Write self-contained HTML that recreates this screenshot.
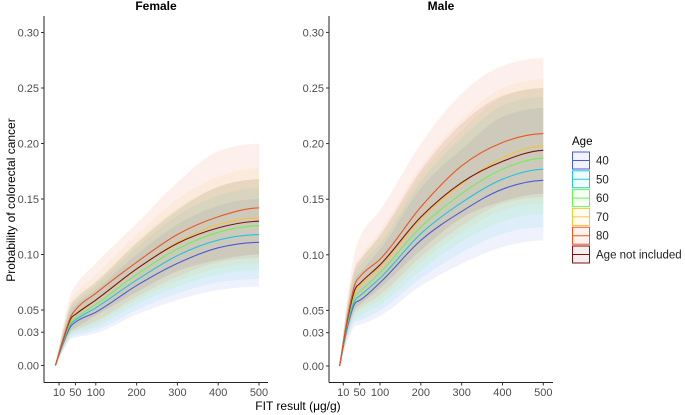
<!DOCTYPE html>
<html><head><meta charset="utf-8"><style>
body{margin:0;background:#fff;}
svg{display:block;font-family:"Liberation Sans",Arial,sans-serif;}
</style></head><body>
<svg id="chart" width="685" height="415" xmlns="http://www.w3.org/2000/svg">
<text x="156" y="10" text-anchor="middle" font-weight="bold" font-size="12">Female</text>
<text x="441" y="10" text-anchor="middle" font-weight="bold" font-size="12">Male</text>
<text x="298" y="410" text-anchor="middle" font-size="12">FIT result (μg/g)</text>
<text transform="translate(15,200) rotate(-90)" text-anchor="middle" font-size="12">Probability of colorectal cancer</text>
<g id="legend">
<text x="572" y="145" font-size="11.5">Age</text>
</g>
</svg>
<script>
const xs = [1, 20, 40, 50, 100, 200, 300, 400, 500];
const series = ['40', '50', '60', '70', '80', 'Age not included'];
const colors = ['#4a5ad8', '#22c4de', '#6cf05a', '#f5c23c', '#ec5420', '#7a1414'];
const yTicks = [0, 0.03, 0.05, 0.10, 0.15, 0.20, 0.25, 0.30];
const xTicks = [10, 50, 100, 200, 300, 400, 500];

const femaleMean = [
 [0,0.020,0.036,0.039,0.048,0.072,0.092,0.106,0.111],
 [0,0.021,0.038,0.041,0.052,0.077,0.099,0.113,0.118],
 [0,0.022,0.040,0.043,0.055,0.082,0.105,0.120,0.126],
 [0,0.023,0.042,0.046,0.059,0.087,0.111,0.127,0.133],
 [0,0.024,0.045,0.050,0.065,0.093,0.118,0.134,0.142],
 [0,0.023,0.043,0.046,0.059,0.087,0.110,0.124,0.130]];
const femaleHi = [
 [0,0.028,0.050,0.054,0.068,0.100,0.127,0.144,0.150],
 [0,0.030,0.053,0.057,0.072,0.106,0.135,0.153,0.160],
 [0,0.031,0.056,0.060,0.076,0.112,0.142,0.161,0.168],
 [0,0.033,0.060,0.065,0.082,0.118,0.150,0.170,0.178],
 [0,0.036,0.066,0.072,0.092,0.128,0.165,0.193,0.200],
 [0,0.032,0.056,0.060,0.075,0.110,0.140,0.161,0.168]];
const femaleLo = [
 [0,0.013,0.024,0.025,0.029,0.046,0.059,0.068,0.071],
 [0,0.014,0.026,0.027,0.032,0.050,0.065,0.075,0.078],
 [0,0.015,0.028,0.029,0.035,0.055,0.071,0.082,0.086],
 [0,0.016,0.029,0.031,0.038,0.059,0.076,0.088,0.092],
 [0,0.016,0.030,0.032,0.040,0.062,0.080,0.093,0.097],
 [0,0.017,0.032,0.034,0.045,0.066,0.085,0.095,0.100]];
const maleMean = [
 [0,0.035,0.057,0.059,0.075,0.113,0.139,0.159,0.167],
 [0,0.037,0.060,0.063,0.079,0.119,0.147,0.168,0.177],
 [0,0.039,0.064,0.067,0.084,0.125,0.155,0.177,0.187],
 [0,0.041,0.068,0.072,0.089,0.132,0.164,0.187,0.198],
 [0,0.043,0.075,0.080,0.096,0.143,0.180,0.201,0.209],
 [0,0.041,0.070,0.074,0.091,0.134,0.165,0.184,0.194]];
const maleHi = [
 [0,0.050,0.080,0.084,0.105,0.160,0.195,0.224,0.232],
 [0,0.052,0.085,0.090,0.110,0.166,0.205,0.234,0.242],
 [0,0.054,0.088,0.094,0.116,0.172,0.212,0.242,0.250],
 [0,0.056,0.092,0.098,0.122,0.180,0.222,0.250,0.258],
 [0,0.062,0.105,0.115,0.140,0.200,0.245,0.270,0.277],
 [0,0.055,0.090,0.095,0.118,0.176,0.218,0.243,0.250]];
const maleLo = [
 [0,0.022,0.036,0.037,0.045,0.072,0.092,0.107,0.113],
 [0,0.024,0.040,0.041,0.050,0.079,0.102,0.119,0.125],
 [0,0.026,0.043,0.045,0.055,0.086,0.112,0.130,0.137],
 [0,0.028,0.047,0.049,0.060,0.093,0.120,0.140,0.146],
 [0,0.029,0.049,0.052,0.064,0.098,0.126,0.146,0.152],
 [0,0.030,0.052,0.055,0.070,0.104,0.133,0.148,0.155]];

const NS='http://www.w3.org/2000/svg';
const svg=document.getElementById('chart');
function mk(tag,attrs,parent){const e=document.createElementNS(NS,tag);for(const k in attrs)e.setAttribute(k,attrs[k]);(parent||svg).appendChild(e);return e;}

function monoPts(pts,flatEnd,flatStart){
  const n=pts.length,d=[],h=[],m=[];
  for(let i=0;i<n-1;i++){h.push(pts[i+1][0]-pts[i][0]);d.push((pts[i+1][1]-pts[i][1])/h[i]);}
  m[0]=d[0];m[n-1]=d[n-2];
  for(let i=1;i<n-1;i++){
    if(d[i-1]*d[i]<=0){m[i]=0;continue;}
    const p=(d[i-1]*h[i]+d[i]*h[i-1])/(h[i-1]+h[i]);
    m[i]=(Math.sign(d[i-1])+Math.sign(d[i]))*Math.min(Math.abs(d[i-1]),Math.abs(d[i]),0.5*Math.abs(p))||0;
  }
  if(flatEnd)m[n-1]=d[n-2]*0.15;
  if(flatStart)m[0]=d[0]*0.15;
  let s='';
  for(let i=0;i<n-1;i++){const k=h[i]/3;
    s+=` C${pts[i][0]+k},${pts[i][1]+m[i]*k} ${pts[i+1][0]-k},${pts[i+1][1]-m[i+1]*k} ${pts[i+1][0]},${pts[i+1][1]}`;}
  return s;
}
function linePath(pts){return `M${pts[0][0]},${pts[0][1]}`+monoPts(pts,true,false);}

function panel(name,ax,x0,xPer100,y0,yPerUnit,mean,hi,lo,right){
  const X=v=>x0+v*xPer100/100, Y=v=>y0-v*yPerUnit;
  const g=mk('g',{});
  
  
  for(let s=0;s<series.length;s++){
    const up=xs.map((x,i)=>[X(x),Y(hi[s][i])]);
    const dn=xs.map((x,i)=>[X(x),Y(lo[s][i])]).reverse();
    const b=mk('path',{d:linePath(up)+` L${dn[0][0]},${dn[0][1]}`+monoPts(dn,false,true)+'Z',fill:colors[s],'fill-opacity':0.085,stroke:'none'},g);
    
    
  }
  const order=[0,1,2,3,5,4];
  for(const s of order){
    const l=mk('path',{d:linePath(xs.map((x,i)=>[X(x),Y(mean[s][i])])),fill:'none',stroke:colors[s],'stroke-width':1.1},g);
    
    
  }
  const axY=mk('line',{x1:ax,y1:16,x2:ax,y2:382.5,stroke:'#222','stroke-width':1},g);
  
  
  const axX=mk('line',{x1:ax,y1:382.5,x2:right,y2:382.5,stroke:'#222','stroke-width':1},g);
  
  
  for(const t of yTicks){
    mk('line',{x1:ax-3,x2:ax,y1:Y(t),y2:Y(t),stroke:'#333'},g);
    const tx=mk('text',{x:ax-5,y:Y(t)+4,'text-anchor':'end','font-size':11,fill:'#4d4d4d'},g);
    tx.textContent=t.toFixed(2);
    
    
  }
  for(const t of xTicks){
    mk('line',{x1:X(t),x2:X(t),y1:382.5,y2:385.5,stroke:'#333'},g);
    const tx=mk('text',{x:X(t),y:396,'text-anchor':'middle','font-size':11,fill:'#4d4d4d'},g);
    tx.textContent=t;
    
    
  }
}
panel('female',44,55,40.8,365.5,1110,femaleMean,femaleHi,femaleLo,268);
panel('male',329,339.2,40.82,366,1112,maleMean,maleHi,maleLo,553);

const lg=document.getElementById('legend');
for(let s=0;s<series.length;s++){
  const y=152+s*18.8;
  const e=mk('g',{},lg);
  
  
  mk('rect',{x:572.5,y:y,width:17,height:17,fill:colors[s],'fill-opacity':0.07,stroke:colors[s],'stroke-width':1},e);
  mk('line',{x1:572.5,x2:589.5,y1:y+8.5,y2:y+8.5,stroke:colors[s],'stroke-width':1},e);
  const t=mk('text',{x:596,y:y+12.5,'font-size':11.5,fill:'#222'},e);
  t.textContent=series[s];
}
</script>
</body></html>
